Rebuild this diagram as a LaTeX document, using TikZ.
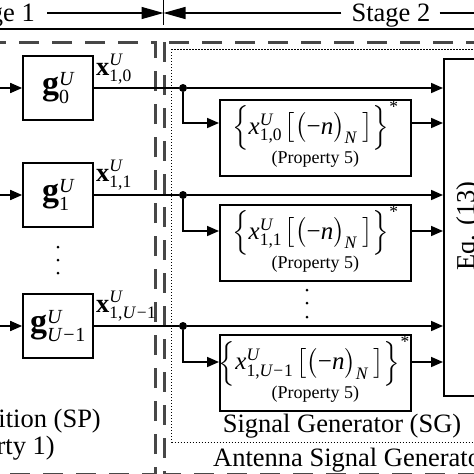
\documentclass[tikz,border=0pt]{standalone}
\usepackage{amsmath}
\usepackage{fontspec}
\setmainfont{Liberation Serif}
\usetikzlibrary{arrows.meta,calc}
\makeatletter
\newcommand\dlm[2]{\bBigg@{#1}{#2}}
\makeatother
\newcommand\vi[1]{\textit{#1}}
\newcommand\vn[1]{\textnormal{#1}}
\newcommand\vb[1]{\textbf{#1}}
\newcommand\lsc[1]{\hbox{\fontsize{17.5}{20}\selectfont #1}}
\newcommand\gsc[1]{\hbox{\fontsize{20}{24}\selectfont #1}}
\newcommand\frm[1]{$\mathopen{\dlm{1.35}\{}\vi{x}^{\vi{U}}_{#1}\mkern2mu\mathopen{\dlm{0.95}[}\mathopen{\dlm{0.95}(}\vn{−}\vi{n}\mathclose{\dlm{0.95})}_{\vi{N}}\mkern4mu\mathclose{\dlm{0.95}]}\mathclose{\dlm{1.35}\}}^{\vn{*}}$}
\tikzset{
  txt/.style={font=\fontsize{26.5}{32}\selectfont, inner sep=0pt},
  gtxt/.style={font=\fontsize{34}{40}\selectfont},
  ftxt/.style={font=\fontsize{25}{34}\selectfont, inner sep=0pt},
  ptxt/.style={font=\fontsize{18}{22}\selectfont, inner sep=0pt},
  ln/.style={line width=1.7pt},
  arr/.style={ln, -{Triangle[length=12pt,width=10pt]}},
  stg/.style={line width=1.4pt, -{Triangle[length=22pt,width=12pt]}},
  gbox/.style={draw, ln, gtxt, minimum width=70pt, minimum height=64pt, inner sep=0pt},
  pbox/.style={draw, ln, minimum width=191pt, minimum height=76pt, inner sep=0pt, anchor=north west},
  jdot/.style={circle, fill, inner sep=0pt, minimum size=8pt},
  sdot/.style={circle, fill, inner sep=0pt, minimum size=3pt},
  dsh/.style={line width=3pt, black!72, dash pattern=on 20pt off 13pt},
  dotbox/.style={line width=1pt, dash pattern=on 1.2pt off 1.8pt}
}
\begin{document}
\begin{tikzpicture}[x=1pt,y=-1pt]
\useasboundingbox (0,0) rectangle (474,474);
\clip (0,0) rectangle (474,474);
\fill[white] (0,0) rectangle (474,474);

% stage header
\node[txt, anchor=base east] (st1) at (35,21) {Stage 1};
\node[txt, anchor=base] (st2) at (391,21) {Stage 2};
\coordinate (tk) at (163.5,13);
\coordinate (tkt) at (163.5,0);
\coordinate (tkb) at (163.5,25);
\draw[line width=1.2pt] (tkt) -- (tkb);
\draw[stg] ($(st1.east |- tk)+(12,0)$) -- (tk);
\draw[stg] ($(st2.west |- tk)+(-10,0)$) -- (tk);
\draw[line width=1.4pt] ($(st2.east |- tk)+(9,0)$) -- ($(st2.east |- tk)+(80,0)$);
\draw[line width=1.8pt] (0,29) -- (474,29);

% group frames
\draw[dsh] (-20,42) rectangle (155,474);
\draw[dsh] (164,42) rectangle (520,474);
\draw[dotbox] (171.5,49) rectangle (520,442);

% SP blocks
\node[gbox] (g0) at (58,88) {$\vb{g}^{\gsc{\itshape U}}_{\gsc{0}}$};
\node[gbox] (g1) at (58,195) {$\vb{g}^{\gsc{\itshape U}}_{\gsc{1}}$};
\node[gbox] (g2) at (58,326) {$\vb{g}^{\gsc{\itshape U}}_{\gsc{\itshape U\/\upshape\kern0.8pt−\kern0.8pt1}}$};
\coordinate (i0) at (0,88);
\coordinate (i1) at (0,195);
\coordinate (i2) at (0,326);
\draw[arr] (i0) -- (g0.west);
\draw[arr] (i1) -- (g1.west);
\draw[arr] (i2) -- (g2.west);

\node[sdot] (v1) at (58,247) {};
\node[sdot] (v2) at (58,260) {};
\node[sdot] (v3) at (58,273) {};

% output labels
\node[txt, anchor=base west] (l0) at (96,75) {$\vb{x}^{\lsc{\itshape U}}_{\lsc{1,0}}$};
\node[txt, anchor=base west] (l1) at (96,181) {$\vb{x}^{\lsc{\itshape U}}_{\lsc{1,1}}$};
\node[txt, anchor=base west] (l2) at (96,312) {$\vb{x}^{\lsc{\itshape U}}_{\lsc{1,\itshape U\/\upshape\kern0.6pt−\kern0.6pt1}}$};

% Eq box
\node[draw, ln, minimum width=90pt, minimum height=337pt, anchor=north west, inner sep=0pt] (eq) at (443,58) {};
\node[txt, rotate=90, anchor=base] (eqt) at (474.5,226) {Eq. (13)};

% junctions
\node[jdot] (d0) at (183,88) {};
\node[jdot] (d1) at (183,195) {};
\node[jdot] (d2) at (183,326) {};

% property boxes
\node[pbox] (p0) at (219,99) {};
\node[pbox] (p1) at (219,204) {};
\node[pbox] (p2) at (219,334) {};
\node[ftxt] (f0) at ($(p0.north)+(0,26.5)$) {\frm{\vn{1,0}}};
\node[ftxt] (f1) at ($(p1.north)+(0,26.5)$) {\frm{\vn{1,1}}};
\node[ftxt] (f2) at ($(p2.north)+(-1,27)$) {\frm{\vn{1,}\vi{U}\mkern1mu\vn{−}\mkern1mu\vn{1}}};
\node[ptxt, anchor=base] (q0) at ($(p0.north)+(0,64)$) {(Property 5)};
\node[ptxt, anchor=base] (q1) at ($(p1.north)+(0,64)$) {(Property 5)};
\node[ptxt, anchor=base] (q2) at ($(p2.north)+(0,64)$) {(Property 5)};

\node[sdot] (w1) at (307,290) {};
\node[sdot] (w2) at (307,303) {};
\node[sdot] (w3) at (307,317) {};

% connectors
\draw[ln] (g0.east) -- (d0);
\draw[ln] (g1.east) -- (d1);
\draw[ln] (g2.east) -- (d2);
\draw[arr] (d0) -- (d0 -| eq.west);
\draw[arr] (d1) -- (d1 -| eq.west);
\draw[arr] (d2) -- (d2 -| eq.west);
\coordinate (a0) at ($(p0.north west)+(0,24)$);
\coordinate (a1) at ($(p1.north west)+(0,27)$);
\coordinate (a2) at ($(p2.north west)+(0,28)$);
\coordinate (b0) at ($(p0.north east)+(0,24)$);
\coordinate (b1) at ($(p1.north east)+(0,27)$);
\coordinate (b2) at ($(p2.north east)+(0,28)$);
\draw[arr] (d0) |- (a0);
\draw[arr] (d1) |- (a1);
\draw[arr] (d2) |- (a2);
\draw[arr] (b0) -- (b0 -| eq.west);
\draw[arr] (b1) -- (b1 -| eq.west);
\draw[arr] (b2) -- (b2 -| eq.west);

% captions
\node[txt, anchor=base east] (c1) at (101,427) {Signal Partition (SP)};
\node[txt, anchor=base east] (c2) at (55,454) {(Property 1)};
\node[txt, anchor=base] (c3) at (342,432) {Signal Generator (SG)};
\node[txt, anchor=base west] (c4) at (213,466) {Antenna Signal Generator (ASG)};
\end{tikzpicture}
\end{document}
